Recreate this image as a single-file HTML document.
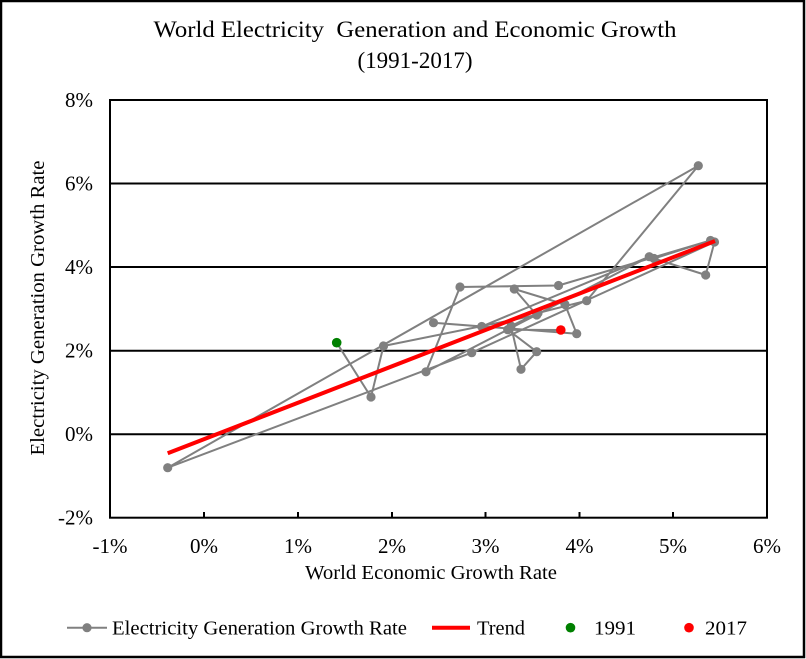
<!DOCTYPE html>
<html>
<head>
<meta charset="utf-8">
<style>
  html, body { margin:0; padding:0; background:#ffffff; }
  svg { display:block; }
  text { font-family: "Liberation Serif", "Times New Roman", serif; fill:#000; }
</style>
</head>
<body>
<svg width="806" height="659" viewBox="0 0 806 659" xmlns="http://www.w3.org/2000/svg">
  <!-- chart border -->
  <rect x="1" y="1" width="803" height="656" fill="#ffffff" stroke="#000" stroke-width="2.5"/>

  <!-- title -->
  <text x="415" y="37" font-size="23" text-anchor="middle" textLength="523" lengthAdjust="spacingAndGlyphs" xml:space="preserve">World Electricity  Generation and Economic Growth</text>
  <text x="415" y="68" font-size="23" text-anchor="middle">(1991-2017)</text>

  <!-- gridlines -->
  <g stroke="#000" stroke-width="2">
    <line x1="110" y1="183.5" x2="767" y2="183.5"/>
    <line x1="110" y1="267" x2="767" y2="267"/>
    <line x1="110" y1="350.7" x2="767" y2="350.7"/>
    <line x1="110" y1="434.3" x2="767" y2="434.3"/>
  </g>
  <!-- bottom ticks -->
  <g stroke="#000" stroke-width="2">
    <line x1="204" y1="512" x2="204" y2="518"/>
    <line x1="298" y1="512" x2="298" y2="518"/>
    <line x1="392" y1="512" x2="392" y2="518"/>
    <line x1="485.5" y1="512" x2="485.5" y2="518"/>
    <line x1="579.5" y1="512" x2="579.5" y2="518"/>
    <line x1="673" y1="512" x2="673" y2="518"/>
  </g>
  <!-- plot border -->
  <rect x="110" y="100" width="657" height="417.7" fill="none" stroke="#000" stroke-width="2"/>

  <!-- y tick labels -->
  <g font-size="21" text-anchor="end">
    <text x="93" y="107">8%</text>
    <text x="93" y="190.5">6%</text>
    <text x="93" y="274">4%</text>
    <text x="93" y="357.5">2%</text>
    <text x="93" y="441">0%</text>
    <text x="93" y="524.5">-2%</text>
  </g>
  <!-- x tick labels -->
  <g font-size="21" text-anchor="middle">
    <text x="110" y="553">-1%</text>
    <text x="204" y="553">0%</text>
    <text x="298" y="553">1%</text>
    <text x="392" y="553">2%</text>
    <text x="485.5" y="553">3%</text>
    <text x="579.5" y="553">4%</text>
    <text x="673" y="553">5%</text>
    <text x="767" y="553">6%</text>
  </g>

  <!-- axis titles -->
  <text x="431" y="579" font-size="20" text-anchor="middle" textLength="252" lengthAdjust="spacingAndGlyphs">World Economic Growth Rate</text>
  <text transform="translate(44,308) rotate(-90)" font-size="20" text-anchor="middle" textLength="295" lengthAdjust="spacingAndGlyphs">Electricity Generation Growth Rate</text>

  <!-- series line -->
  <polyline fill="none" stroke="#808080" stroke-width="2" stroke-linejoin="round"
    points="336.7,342.7 371,397 383.5,346 536.7,315 514.3,289 565,304.5 576.7,333.7 433.5,322.7 481.7,326.5 649.3,256.7 426,371.8 460,287 558.5,285.5 710.5,240.5 654,258.5 705.7,275 714.5,242 471.7,352.7 167.7,467.7 698.3,165.7 586.7,300.7 538,313 511,326 521,369.3 536.7,351.7 507.7,329.7 560.8,330"/>
  <!-- markers -->
  <g fill="#808080">
    <circle cx="371" cy="397" r="4.6"/>
    <circle cx="383.5" cy="346" r="4.6"/>
    <circle cx="536.7" cy="315" r="4.6"/>
    <circle cx="514.3" cy="289" r="4.6"/>
    <circle cx="565" cy="304.5" r="4.6"/>
    <circle cx="576.7" cy="333.7" r="4.6"/>
    <circle cx="433.5" cy="322.7" r="4.6"/>
    <circle cx="481.7" cy="326.5" r="4.6"/>
    <circle cx="649.3" cy="256.7" r="4.6"/>
    <circle cx="426" cy="371.8" r="4.6"/>
    <circle cx="460" cy="287" r="4.6"/>
    <circle cx="558.5" cy="285.5" r="4.6"/>
    <circle cx="710.5" cy="240.5" r="4.6"/>
    <circle cx="654" cy="258.5" r="4.6"/>
    <circle cx="705.7" cy="275" r="4.6"/>
    <circle cx="714.5" cy="242" r="4.6"/>
    <circle cx="471.7" cy="352.7" r="4.6"/>
    <circle cx="167.7" cy="467.7" r="4.6"/>
    <circle cx="698.3" cy="165.7" r="4.6"/>
    <circle cx="586.7" cy="300.7" r="4.6"/>
    <circle cx="538" cy="313" r="4.6"/>
    <circle cx="511" cy="326" r="4.6"/>
    <circle cx="521" cy="369.3" r="4.6"/>
    <circle cx="536.7" cy="351.7" r="4.6"/>
    <circle cx="507.7" cy="329.7" r="4.6"/>
  </g>

  <!-- trend line -->
  <line x1="167.7" y1="453.3" x2="715" y2="241" stroke="#ff0000" stroke-width="4"/>

  <!-- highlighted points -->
  <circle cx="336.7" cy="342.7" r="4.8" fill="#008000"/>
  <circle cx="560.8" cy="330" r="4.8" fill="#ff0000"/>

  <!-- legend -->
  <line x1="67" y1="627.7" x2="107" y2="627.7" stroke="#808080" stroke-width="2"/>
  <circle cx="87" cy="627.7" r="4.6" fill="#808080"/>
  <text x="112" y="634.5" font-size="20" textLength="295" lengthAdjust="spacingAndGlyphs">Electricity Generation Growth Rate</text>

  <line x1="432" y1="627.7" x2="470" y2="627.7" stroke="#ff0000" stroke-width="4"/>
  <text x="477" y="634.5" font-size="20" textLength="48" lengthAdjust="spacingAndGlyphs">Trend</text>

  <circle cx="570.5" cy="627.7" r="4.8" fill="#008000"/>
  <text x="594" y="634.5" font-size="20" textLength="42" lengthAdjust="spacingAndGlyphs">1991</text>

  <circle cx="689" cy="627.7" r="4.8" fill="#ff0000"/>
  <text x="705" y="634.5" font-size="20" textLength="42" lengthAdjust="spacingAndGlyphs">2017</text>
</svg>
</body>
</html>
